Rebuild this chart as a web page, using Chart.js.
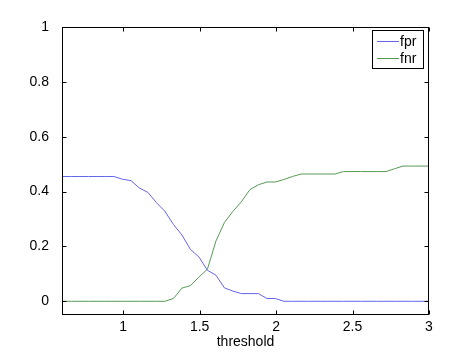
<!DOCTYPE html>
<html>
<head>
<meta charset="utf-8">
<script src="https://cdn.jsdelivr.net/npm/chart.js@4.4.1/dist/chart.umd.min.js"></script>
<style>
html,body{margin:0;padding:0;background:#fff;}
#wrap{width:474px;height:355px;position:relative;}
</style>
</head>
<body>
<div id="wrap"><canvas id="c" width="474" height="355"></canvas></div>
<script>
const thresholds = [0.600,0.661,0.717,0.773,0.828,0.884,0.939,0.995,1.051,1.106,1.162,1.217,
  1.273,1.329,1.384,1.440,1.495,1.551,1.607,1.662,1.718,1.773,1.829,1.885,1.940,1.996,
  2.051,2.107,2.163,2.218,2.274,2.329,2.385,2.441,2.496,2.552,2.607,2.663,2.719,2.774,
  2.830,2.885,2.941,3.000];
const fpr = [0.455,0.455,0.455,0.455,0.455,0.455,0.455,0.445,0.440,0.413,0.397,0.360,
  0.328,0.280,0.242,0.189,0.162,0.113,0.095,0.049,0.037,0.028,0.028,0.028,0.010,0.010,
  0,0,0,0,0,0,0,0,0,0,0,0,0,0,0,0,0,0];
const fnr = [0,0,0,0,0,0,0,0,0,0,0,0,
  0,0.010,0.048,0.057,0.088,0.117,0.220,0.287,0.328,0.363,0.407,0.425,0.435,0.435,
  0.444,0.455,0.464,0.464,0.464,0.464,0.464,0.473,0.473,0.473,0.473,0.473,0.473,0.483,
  0.493,0.493,0.493,0.493];
const xTicks = [1, 1.5, 2, 2.5, 3];
const yTicks = [0, 0.2, 0.4, 0.6, 0.8, 1];
const seriesLabels = ['fpr', 'fnr'];
const xTitle = 'threshold';

const FONT = 'Liberation Sans, Arial, Helvetica, sans-serif';
const colors = ['rgb(100,100,235)', 'rgb(85,155,85)'];

function pts(ys){ return thresholds.map((x,i)=>({x:x,y:ys[i]})); }

const framePlugin = {
  id: 'frame',
  afterDraw(chart){
    const ctx = chart.ctx, a = chart.chartArea;
    const xs = chart.scales.x, ys = chart.scales.y;
    const L = Math.round(a.left)+0.5, R = Math.round(a.right)-0.5;
    const T = Math.round(a.top)+0.5, B = Math.round(a.bottom)-0.5;
    ctx.save();
    ctx.strokeStyle = '#000';
    ctx.lineWidth = 1;
    ctx.strokeRect(L, T, R-L, B-T);
    ctx.beginPath();
    const tl = 4;
    xTicks.forEach(v=>{
      const px = Math.round(xs.getPixelForValue(v))+0.5;
      ctx.moveTo(px,B); ctx.lineTo(px,B-tl);
      ctx.moveTo(px,T); ctx.lineTo(px,T+tl);
    });
    yTicks.forEach(v=>{
      const py = Math.round(ys.getPixelForValue(v))+0.5;
      ctx.moveTo(L,py); ctx.lineTo(L+tl,py);
      ctx.moveTo(R,py); ctx.lineTo(R-tl,py);
    });
    ctx.stroke();
    // legend box
    const bx = 372.5, by = 30.5, bw = 51, bh = 38;
    ctx.fillStyle = '#fff';
    ctx.fillRect(bx, by, bw, bh);
    ctx.strokeRect(bx, by, bw, bh);
    ctx.font = '14px ' + FONT;
    ctx.textBaseline = 'middle';
    ctx.textAlign = 'left';
    chart.data.datasets.forEach((ds,i)=>{
      const yy = 41.5 + i*17;
      ctx.strokeStyle = ds.borderColor;
      ctx.beginPath(); ctx.moveTo(377, yy); ctx.lineTo(399, yy); ctx.stroke();
      ctx.fillStyle = '#000';
      ctx.fillText(ds.label, 400, yy + 0.5);
    });
    ctx.restore();
  }
};

new Chart(document.getElementById('c'), {
  type: 'line',
  data: {
    datasets: [
      {label: seriesLabels[0], data: pts(fpr), borderColor: colors[0], borderWidth: 1, pointRadius: 0, tension: 0, fill: false},
      {label: seriesLabels[1], data: pts(fnr), borderColor: colors[1], borderWidth: 1, pointRadius: 0, tension: 0, fill: false}
    ]
  },
  options: {
    responsive: false,
    animation: false,
    devicePixelRatio: 1,
    layout: {padding: {left: 0, right: 45, top: 27, bottom: 0}},
    plugins: {legend: {display: false}, tooltip: {enabled: false}},
    scales: {
      x: {
        type: 'linear', min: 0.6, max: 3,
        grid: {display: false}, border: {display: false},
        afterBuildTicks(s){ s.ticks = xTicks.map(v=>({value:v})); },
        afterFit(s){ s.height = 40; },
        ticks: {color: '#000', font: {family: FONT, size: 14}, padding: -4, maxRotation: 0,
          callback: v => String(v)},
        title: {display: true, text: xTitle, color: '#000', font: {family: FONT, size: 14}, padding: {top: 0, bottom: 4}}
      },
      y: {
        type: 'linear', min: -0.05, max: 1,
        grid: {display: false}, border: {display: false},
        afterBuildTicks(s){ s.ticks = yTicks.map(v=>({value:v})); },
        afterFit(s){ s.width = 62; },
        ticks: {color: '#000', font: {family: FONT, size: 14}, padding: 5,
          callback: v => String(v)}
      }
    }
  },
  plugins: [framePlugin]
});
</script>
</body>
</html>
